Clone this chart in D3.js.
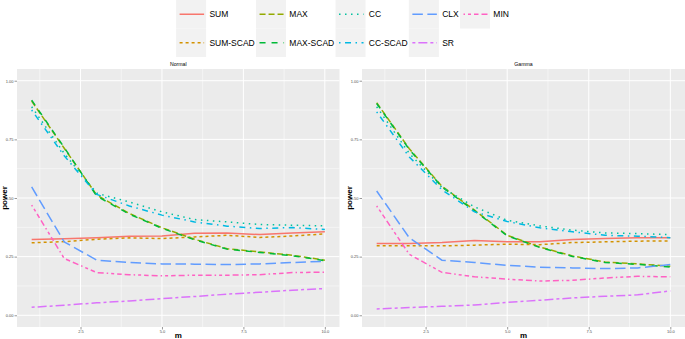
<!DOCTYPE html>
<html>
<head>
<meta charset="utf-8">
<script src="https://cdnjs.cloudflare.com/ajax/libs/d3/7.8.5/d3.min.js"></script>
<style>
  body { margin: 0; background: #ffffff; }
  svg { display: block; font-family: "Liberation Sans", Arial, Helvetica, sans-serif; }
</style>
</head>
<body>
<div id="chart"></div>
<script>
// m values on the x axis
const mValues = [1, 2, 3, 4, 5, 6, 7, 8, 9, 10];

const methods = ["SUM", "SUM-SCAD", "MAX", "MAX-SCAD", "CC", "CC-SCAD", "CLX", "SR", "MIN"];
const methodColors = ["#F8766D", "#D39200", "#93AA00", "#00BA38", "#00C19F", "#00B9E3", "#619CFF", "#DB72FB", "#FF61C3"];
// ggplot linetypes: solid, 22, 42, 44, 13, 1343, 73, 2262, 12223242
const methodLinetypes = ["", "22", "42", "44", "13", "1343", "73", "2262", "12223242"];

const panelTitles = ["Normal", "Gamma"];
const yTicks = [0, 0.25, 0.5, 0.75, 1];
const yTickLabels = ["0.00", "0.25", "0.50", "0.75", "1.00"];
const yMinor = [0.125, 0.375, 0.625, 0.875];
const xTicks = [2.5, 5, 7.5, 10];
const xTickLabels = ["2.5", "5.0", "7.5", "10.0"];
const xMinor = [1.25, 3.75, 6.25, 8.75];

// Normal panel
const normalSum     = [0.323, 0.326, 0.331, 0.337, 0.338, 0.350, 0.351, 0.344, 0.351, 0.356];
const normalSumScad = [0.309, 0.314, 0.324, 0.330, 0.327, 0.334, 0.341, 0.332, 0.338, 0.347];
const normalMax     = [0.913, 0.712, 0.512, 0.434, 0.373, 0.324, 0.284, 0.270, 0.256, 0.235];
const normalMaxScad = [0.917, 0.715, 0.508, 0.431, 0.371, 0.322, 0.282, 0.268, 0.254, 0.233];
const normalCc      = [0.889, 0.690, 0.520, 0.483, 0.441, 0.408, 0.398, 0.387, 0.384, 0.381];
const normalCcScad  = [0.875, 0.680, 0.515, 0.466, 0.427, 0.398, 0.380, 0.370, 0.374, 0.366];
const normalClx     = [0.547, 0.313, 0.235, 0.225, 0.219, 0.218, 0.216, 0.219, 0.225, 0.230];
const normalSr      = [0.034, 0.043, 0.053, 0.061, 0.071, 0.080, 0.090, 0.098, 0.107, 0.114];
const normalMin     = [0.470, 0.242, 0.182, 0.173, 0.168, 0.171, 0.171, 0.173, 0.182, 0.184];

// Gamma panel
const gammaSum     = [0.306, 0.306, 0.310, 0.319, 0.313, 0.313, 0.323, 0.327, 0.330, 0.330];
const gammaSumScad = [0.296, 0.296, 0.296, 0.299, 0.303, 0.301, 0.310, 0.313, 0.316, 0.317];
const gammaMax     = [0.906, 0.710, 0.550, 0.448, 0.341, 0.291, 0.253, 0.227, 0.219, 0.209];
const gammaMaxScad = [0.903, 0.707, 0.547, 0.445, 0.339, 0.289, 0.251, 0.225, 0.217, 0.206];
const gammaCc      = [0.889, 0.690, 0.545, 0.462, 0.405, 0.381, 0.363, 0.351, 0.348, 0.344];
const gammaCcScad  = [0.867, 0.675, 0.535, 0.441, 0.400, 0.373, 0.356, 0.341, 0.337, 0.331];
const gammaClx     = [0.530, 0.330, 0.235, 0.225, 0.213, 0.205, 0.202, 0.199, 0.202, 0.216];
const gammaSr      = [0.027, 0.033, 0.038, 0.044, 0.055, 0.064, 0.074, 0.081, 0.087, 0.104];
const gammaMin     = [0.466, 0.260, 0.183, 0.164, 0.154, 0.146, 0.149, 0.159, 0.166, 0.164];

const panelSeries = [
    [normalSum, normalSumScad, normalMax, normalMaxScad, normalCc, normalCcScad, normalClx, normalSr, normalMin],
    [gammaSum, gammaSumScad, gammaMax, gammaMaxScad, gammaCc, gammaCcScad, gammaClx, gammaSr, gammaMin]
];

const svgWidth = 685;
const svgHeight = 339;
const lineWidth = 1.5;
const panelTop = 69;
const panelBottom = 327;
const panels = [
    { left: 17, right: 339.5 },
    { left: 362, right: 685 }
];

function dashFor(lt) {
    if (!lt) return null;
    return lt.split("").map(c => parseInt(c, 16) * lineWidth).join(" ");
}

const svg = d3.select("#chart").append("svg")
    .attr("width", svgWidth)
    .attr("height", svgHeight);

svg.append("rect")
    .attr("width", svgWidth)
    .attr("height", svgHeight)
    .attr("fill", "#ffffff");

const yScale = d3.scaleLinear()
    .domain([-0.05, 1.05])
    .range([panelBottom, panelTop]);

panels.forEach((p, i) => {
    const xScale = d3.scaleLinear()
        .domain([0.55, 10.45])
        .range([p.left, p.right]);

    const g = svg.append("g");

    // panel background
    g.append("rect")
        .attr("x", p.left)
        .attr("y", panelTop)
        .attr("width", p.right - p.left)
        .attr("height", panelBottom - panelTop)
        .attr("fill", "#EBEBEB");

    // minor grid
    g.selectAll(".ymin").data(yMinor).enter().append("line")
        .attr("x1", p.left).attr("x2", p.right)
        .attr("y1", d => yScale(d)).attr("y2", d => yScale(d))
        .attr("stroke", "#ffffff").attr("stroke-width", 0.5);
    g.selectAll(".xmin").data(xMinor).enter().append("line")
        .attr("y1", panelTop).attr("y2", panelBottom)
        .attr("x1", d => xScale(d)).attr("x2", d => xScale(d))
        .attr("stroke", "#ffffff").attr("stroke-width", 0.5);

    // major grid
    g.selectAll(".ymaj").data(yTicks).enter().append("line")
        .attr("x1", p.left).attr("x2", p.right)
        .attr("y1", d => yScale(d)).attr("y2", d => yScale(d))
        .attr("stroke", "#ffffff").attr("stroke-width", 1);
    g.selectAll(".xmaj").data(xTicks).enter().append("line")
        .attr("y1", panelTop).attr("y2", panelBottom)
        .attr("x1", d => xScale(d)).attr("x2", d => xScale(d))
        .attr("stroke", "#ffffff").attr("stroke-width", 1);

    // axes
    const xAxis = d3.axisBottom(xScale)
        .tickValues(xTicks)
        .tickFormat((d, k) => xTickLabels[k])
        .tickSize(2.5)
        .tickPadding(1);
    const yAxis = d3.axisLeft(yScale)
        .tickValues(yTicks)
        .tickFormat((d, k) => yTickLabels[k])
        .tickSize(2.5)
        .tickPadding(1);

    const xg = g.append("g")
        .attr("transform", `translate(0, ${panelBottom})`)
        .call(xAxis);
    const yg = g.append("g")
        .attr("transform", `translate(${p.left}, 0)`)
        .call(yAxis);
    [xg, yg].forEach(a => {
        a.select(".domain").remove();
        a.selectAll(".tick line").attr("stroke", "#333333").attr("stroke-width", 0.5);
        a.selectAll(".tick text")
            .attr("fill", "#4D4D4D")
            .style("font-size", "4px")
            .style("font-family", "'Liberation Sans', Arial, sans-serif");
    });

    // lines
    const line = d3.line()
        .x((d, k) => xScale(mValues[k]))
        .y(d => yScale(d));

    panelSeries[i].forEach((vals, k) => {
        g.append("path")
            .datum(vals)
            .attr("d", line)
            .attr("fill", "none")
            .attr("stroke", methodColors[k])
            .attr("stroke-width", lineWidth)
            .attr("stroke-dasharray", dashFor(methodLinetypes[k]));
    });

    // title
    g.append("text")
        .attr("x", (p.left + p.right) / 2)
        .attr("y", 65.8)
        .attr("text-anchor", "middle")
        .attr("fill", "#000000")
        .style("font-size", "5.2px")
        .text(panelTitles[i]);

    // axis titles
    g.append("text")
        .attr("x", (p.left + p.right) / 2)
        .attr("y", 337.5)
        .attr("text-anchor", "middle")
        .attr("font-weight", "bold")
        .style("font-size", "8px")
        .text("m");

    g.append("text")
        .attr("transform", `translate(${p.left - 10.5}, ${(panelTop + panelBottom) / 2}) rotate(-90)`)
        .attr("text-anchor", "middle")
        .attr("font-weight", "bold")
        .style("font-size", "8px")
        .text("power");
});

// legend (filled by column, 2 rows)
const keyW = 30;
const keyH = 28.5;
const labelGap = 3.3;
const colGap = 1.3;
const legendFont = 8.5;
const nRows = 2;
const nCols = Math.ceil(methods.length / nRows);

const legend = svg.append("g");
const measure = legend.append("text").style("font-size", legendFont + "px");
const labelWidths = methods.map(name => {
    measure.text(name);
    return measure.node().getComputedTextLength();
});
measure.remove();

const colWidths = d3.range(nCols).map(c => {
    const items = d3.range(nRows).map(r => c * nRows + r).filter(k => k < methods.length);
    return keyW + labelGap + d3.max(items, k => labelWidths[k]);
});
const totalW = d3.sum(colWidths) + colGap * (nCols - 1);
let cx = (svgWidth - totalW) / 2;
const colX = colWidths.map(w => { const x = cx; cx += w + colGap; return x; });

methods.forEach((name, k) => {
    const c = Math.floor(k / nRows);
    const r = k % nRows;
    const x = colX[c];
    const y = r * keyH;
    const item = legend.append("g").attr("transform", `translate(${x}, ${y})`);
    item.append("rect")
        .attr("width", keyW)
        .attr("height", keyH)
        .attr("fill", "#F2F2F2");
    item.append("line")
        .attr("x1", 3.5).attr("x2", keyW - 2)
        .attr("y1", keyH / 2).attr("y2", keyH / 2)
        .attr("stroke", methodColors[k])
        .attr("stroke-width", lineWidth)
        .attr("stroke-dasharray", dashFor(methodLinetypes[k]));
    item.append("text")
        .attr("x", keyW + labelGap)
        .attr("y", keyH / 2)
        .attr("dy", "0.35em")
        .attr("fill", "#000000")
        .style("font-size", legendFont + "px")
        .text(name);
});
</script>
</body>
</html>
